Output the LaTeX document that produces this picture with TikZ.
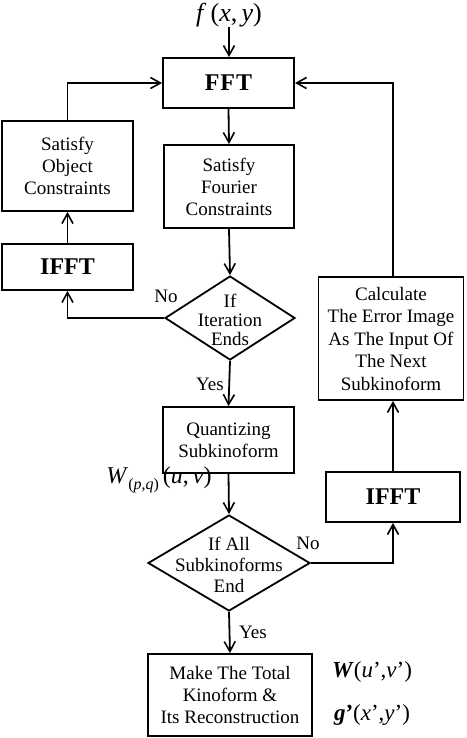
\documentclass[tikz,border=0pt]{standalone}
\usepackage{fontspec}
\setmainfont{Liberation Serif}
\usetikzlibrary{shapes.geometric,arrows.meta}
\newcommand{\vi}[1]{\textit{#1}}
\begin{document}
\begin{tikzpicture}[x=1pt,y=-1pt,
  box/.style={draw,line width=1.8pt,rectangle,inner sep=0pt,align=center,font=\fontsize{19}{22}\selectfont},
  bigbox/.style={draw,line width=1.8pt,rectangle,inner sep=0pt,align=center,font=\fontsize{24}{28}\selectfont\bfseries},
  dia/.style={draw,line width=1.8pt,diamond,inner sep=0pt},
  dtext/.style={align=center,inner sep=0pt,font=\fontsize{19}{19}\selectfont},
  lbl/.style={inner sep=0pt,font=\fontsize{19}{22}\selectfont},
  arr/.style={line width=1.8pt,-{Straight Barb[length=10pt,width=11pt,line width=1.6pt]}}]
\useasboundingbox (0,0) rectangle (466,738);
\node[inner sep=0pt,font=\fontsize{26}{28}\selectfont] (f) at (229,15) {\vi{f}\,(\vi{x},\,\vi{y})};
\node[bigbox,minimum width=131,minimum height=50] (fft) at (228.5,83) {F\kern1ptF\kern1ptT};
\node[box,minimum width=130,minimum height=83] (four) at (229,186.5) {Satisfy\\Fourier\\Constraints};
\node[box,minimum width=131,minimum height=90] (obj) at (67.5,166) {Satisfy\\Object\\Constraints};
\node[bigbox,minimum width=131,minimum height=46] (ifftL) at (67.5,267) {IFFT};
\node[dia,minimum width=130,minimum height=84] (d1) at (230,318) {};
\node[dtext] (d1t) at (230,320) {If\\Iteration\\Ends};
\node[box,minimum width=131,minimum height=66] (quant) at (228.5,440) {Quantizing\\Subkinoform};
\node[dia,minimum width=162,minimum height=96] (d2) at (229,563) {};
\node[dtext,font=\fontsize{19}{21}\selectfont] (d2t) at (229,565) {If All\\Subkinoforms\\End};
\node[box,minimum width=164,minimum height=82] (make) at (230,695) {Make The Total\\Kinoform \&\\Its Reconstruction};
\node[bigbox,minimum width=134,minimum height=50] (ifftR) at (393,497) {IFFT};
\node[box,minimum width=145,minimum height=123,font=\fontsize{19}{22.5}\selectfont] (calc) at (391,338.5) {Calculate\\The Error Image\\As The Input Of\\The Next\\Subkinoform};
\node[lbl] (no1) at (166,296) {No};
\node[lbl] (no2) at (308,543) {No};
\node[lbl] (yes1) at (210,384) {Yes};
\node[lbl] (yes2) at (253,632) {Yes};
\node[inner sep=0pt,font=\fontsize{24}{26}\selectfont] (wpq) at (159,480) {\vi{W}\raisebox{-6pt}{\fontsize{16}{18}\selectfont(\vi{p},\vi{q})}\,(\vi{u},\,\vi{v})};
\node[inner sep=0pt,font=\fontsize{23}{26}\selectfont] (wuv) at (372,672) {\textbf{\vi{W}}(\vi{u}',\vi{v}')};
\node[inner sep=0pt,font=\fontsize{23}{26}\selectfont] (gxy) at (372,715) {\textbf{\vi{g}'}(\vi{x}',\vi{y}')};
\draw[arr] (f.south) coordinate (fs) -- (fs |- fft.north);
\draw[arr] (fft.south) -- (four.north);
\draw[arr] (four.south) -- (d1.north);
\draw[arr] (d1.west) -| (ifftL.south);
\draw[arr] (ifftL.north) -- (obj.south);
\draw[arr] (obj.north) |- (fft.west);
\draw[arr] (d1.south) -- (quant.north);
\draw[arr] (quant.south) -- (d2.north);
\draw[arr] (d2.east) -| (ifftR.south);
\draw[arr] (ifftR.north) -- (ifftR.north |- calc.south);
\draw[arr] (ifftR.north |- calc.north) |- (fft.east);
\draw[arr] (d2.south) -- (make.north);
\end{tikzpicture}
\end{document}
